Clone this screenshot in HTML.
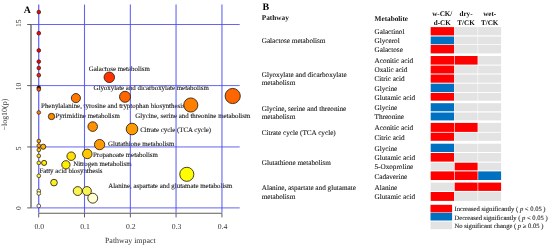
<!DOCTYPE html>
<html><head><meta charset="utf-8"><title>Pathway analysis</title>
<style>html,body{margin:0;padding:0;background:#fff;}body{width:550px;height:247px;position:relative;overflow:hidden;}</style>
</head><body>
<svg width="550" height="247" viewBox="0 0 550 247" text-rendering="geometricPrecision" style="position:absolute;left:0;top:0">
<g font-family="'Liberation Serif','Times New Roman',serif" font-size="6.9" fill="#222" stroke="#222" stroke-width="0.12">
<text x="88.8" y="70.6">Galactose metabolism</text>
<text x="93.5" y="90.4">Glyoxylate and dicarboxylate metabolism</text>
<text x="41.1" y="107.8">Phenylalanine, tyrosine and tryptophan biosynthesis</text>
<text x="55.3" y="118.2">Pyrimidine metabolism</text>
<text x="135.3" y="118.3">Glycine, serine and threonine metabolism</text>
<text x="140.2" y="131.5">Citrate cycle (TCA cycle)</text>
<text x="108.0" y="146.0">Glutathione metabolism</text>
<text x="93.0" y="157.3">Propanoate metabolism</text>
<text x="73.2" y="166.3">Nitrogen metabolism</text>
<text x="39.4" y="172.8">Fatty acid biosynthesis</text>
<text x="108.2" y="188.3">Alanine, aspartate and glutamate metabolism</text>
</g>
<g stroke="#4a4af2" stroke-opacity="0.85" stroke-width="1" fill="none">
<line x1="38.7" y1="4.5" x2="38.7" y2="212.8" stroke-width="1.25"/>
<line x1="84.5" y1="4.5" x2="84.5" y2="212.8" stroke-width="1.1"/>
<line x1="130.35" y1="4.5" x2="130.35" y2="212.8" stroke-width="1.1"/>
<line x1="176.05" y1="4.5" x2="176.05" y2="212.8" stroke-width="1.1"/>
<line x1="221.95" y1="4.5" x2="221.95" y2="212.8" stroke-width="1.1"/>
<line x1="31" y1="207.9" x2="239.7" y2="207.9" stroke-width="1.0"/>
<line x1="31" y1="146.95" x2="239.7" y2="146.95" stroke-width="1.0"/>
<line x1="31" y1="85.6" x2="239.7" y2="85.6" stroke-width="1.0"/>
<line x1="31" y1="24.5" x2="239.7" y2="24.5" stroke-width="1.0"/>
</g>
<g stroke="#5c5c5c" stroke-width="1" fill="none">
<line x1="31.0" y1="24.5" x2="31.0" y2="207.86" stroke-width="1.3"/>
<line x1="27.2" y1="207.9" x2="31.0" y2="207.9"/>
<line x1="27.2" y1="146.95" x2="31.0" y2="146.95"/>
<line x1="27.2" y1="85.6" x2="31.0" y2="85.6"/>
<line x1="27.2" y1="24.5" x2="31.0" y2="24.5"/>
<line x1="38.6" y1="213.2" x2="221.95" y2="213.2" stroke-width="1.15"/>
<line x1="38.7" y1="213.3" x2="38.7" y2="217.4"/>
<line x1="84.5" y1="213.3" x2="84.5" y2="217.4"/>
<line x1="130.35" y1="213.3" x2="130.35" y2="217.4"/>
<line x1="176.05" y1="213.3" x2="176.05" y2="217.4"/>
<line x1="221.95" y1="213.3" x2="221.95" y2="217.4"/>
</g>
<g stroke="#2a1e14" stroke-width="0.85">
<circle cx="38.8" cy="12.05" r="1.85" fill="#ff0000" stroke-width="0.7"/>
<circle cx="38.8" cy="33.2" r="1.85" fill="#ff0000" stroke-width="0.7"/>
<circle cx="38.8" cy="50.4" r="1.85" fill="#f80000" stroke-width="0.7"/>
<circle cx="38.8" cy="61.6" r="1.85" fill="#f80000" stroke-width="0.7"/>
<circle cx="38.8" cy="68.0" r="1.85" fill="#f80800" stroke-width="0.7"/>
<circle cx="38.8" cy="75.2" r="1.85" fill="#ff1a00" stroke-width="0.7"/>
<circle cx="38.8" cy="87.7" r="1.85" fill="#300000" stroke-width="0.7"/>
<circle cx="38.8" cy="89.4" r="1.85" fill="#ff5a00" stroke-width="0.7"/>
<circle cx="38.8" cy="112.5" r="1.85" fill="#ff8000" stroke-width="0.7"/>
<circle cx="38.8" cy="141.0" r="1.85" fill="#ffa500" stroke-width="0.7"/>
<circle cx="38.8" cy="145.7" r="1.85" fill="#ffb000" stroke-width="0.7"/>
<circle cx="38.8" cy="149.9" r="1.85" fill="#ffcc00" stroke-width="0.7"/>
<circle cx="38.8" cy="155.9" r="1.85" fill="#ffe000" stroke-width="0.7"/>
<circle cx="38.8" cy="162.9" r="1.85" fill="#ffee00" stroke-width="0.7"/>
<circle cx="38.8" cy="175.8" r="1.85" fill="#ffff20" stroke-width="0.7"/>
<circle cx="38.8" cy="190.9" r="1.85" fill="#ffffa0" stroke-width="0.7"/>
<circle cx="38.8" cy="193.5" r="1.85" fill="#ffffa0" stroke-width="0.7"/>
<circle cx="38.8" cy="205.9" r="1.85" fill="#ffffff" stroke-width="0.7"/>
<circle cx="43.2" cy="146.7" r="2.55" fill="#ffb400"/>
<circle cx="44.1" cy="162.9" r="2.55" fill="#ffee00"/>
<circle cx="51.5" cy="116.5" r="3.15" fill="#ff8c00"/>
<circle cx="54.0" cy="182.6" r="3.35" fill="#f8f020"/>
<circle cx="65.9" cy="164.8" r="4.15" fill="#ffee00"/>
<circle cx="71.2" cy="156.2" r="4.25" fill="#ffe000"/>
<circle cx="75.9" cy="98.1" r="4.55" fill="#ff7800"/>
<circle cx="77.7" cy="191.05" r="4.45" fill="#f8f450"/>
<circle cx="86.9" cy="191.0" r="4.45" fill="#f8f450"/>
<circle cx="87.3" cy="153.9" r="4.75" fill="#ffc800"/>
<circle cx="92.7" cy="126.6" r="4.80" fill="#ff9000"/>
<circle cx="92.75" cy="198.2" r="4.95" fill="#ffffd0"/>
<circle cx="99.6" cy="144.6" r="5.15" fill="#ff9a00"/>
<circle cx="109.3" cy="77.3" r="5.25" fill="#ff3300"/>
<circle cx="125.0" cy="96.8" r="5.50" fill="#ff6600"/>
<circle cx="132.0" cy="129.0" r="5.80" fill="#ff9900"/>
<circle cx="186.8" cy="174.3" r="7.05" fill="#ffff00"/>
<circle cx="190.8" cy="105.0" r="7.05" fill="#ff8000"/>
<circle cx="232.7" cy="96.0" r="7.60" fill="#ff6600"/>
</g>
<g font-family="'Liberation Serif','Times New Roman',serif" font-size="7.7" fill="#333" text-anchor="middle">
<text x="39.2" y="229.3">0.0</text>
<text x="85.0" y="229.3">0.1</text>
<text x="130.85" y="229.3">0.2</text>
<text x="176.55" y="229.3">0.3</text>
<text x="222.45" y="229.3">0.4</text>
<text transform="translate(21.2 208.2) rotate(-90)">0</text>
<text transform="translate(21.2 148.4) rotate(-90)">5</text>
<text transform="translate(21.2 86.4) rotate(-90)">10</text>
<text transform="translate(21.2 23.2) rotate(-90)">15</text>
</g>
<text x="130.3" y="243" font-family="'Liberation Serif','Times New Roman',serif" font-size="7.9" fill="#333" text-anchor="middle">Pathway impact</text>
<text transform="translate(6.7 114.6) rotate(-90)" font-family="'Liberation Serif','Times New Roman',serif" font-size="7.95" fill="#333" text-anchor="middle">−log10(p)</text>
<text x="23.8" y="12.7" font-family="'Liberation Serif','Times New Roman',serif" font-size="9.8" font-weight="bold" fill="#000">A</text>
<text x="262.6" y="9.7" font-family="'Liberation Serif','Times New Roman',serif" font-size="10" font-weight="bold" fill="#000">B</text>
<g font-family="'Liberation Serif','Times New Roman',serif" font-size="7.25" font-weight="bold" fill="#111">
<text x="261.8" y="20.1">Pathway</text>
<text x="374.6" y="20.5">Metabolite</text>
</g>
<g font-family="'Liberation Serif','Times New Roman',serif" font-size="7.1" font-weight="bold" fill="#111" text-anchor="middle">
<text x="442.2" y="16.1">w-CK/</text><text x="442.2" y="24.6">d-CK</text>
<text x="466.0" y="16.1">dry-</text><text x="466.0" y="24.6">T/CK</text>
<text x="489.7" y="16.1">wet-</text><text x="489.7" y="24.6">T/CK</text>
</g>
<rect x="430.7" y="27.1" width="23.4" height="8.3" fill="#ff0000"/>
<rect x="454.7" y="27.1" width="22.9" height="8.3" fill="#e3e3e3"/>
<rect x="478.2" y="27.1" width="22.9" height="8.3" fill="#e3e3e3"/>
<rect x="430.7" y="36.5" width="23.4" height="7.8" fill="#0070c0"/>
<rect x="454.7" y="36.5" width="22.9" height="7.8" fill="#e3e3e3"/>
<rect x="478.2" y="36.5" width="22.9" height="7.8" fill="#e3e3e3"/>
<rect x="430.7" y="45.0" width="23.4" height="8.4" fill="#ff0000"/>
<rect x="454.7" y="45.0" width="22.9" height="8.4" fill="#e3e3e3"/>
<rect x="478.2" y="45.0" width="22.9" height="8.4" fill="#e3e3e3"/>
<rect x="430.7" y="56.0" width="23.4" height="8.6" fill="#ff0000"/>
<rect x="454.7" y="56.0" width="22.9" height="8.6" fill="#ff0000"/>
<rect x="478.2" y="56.0" width="22.9" height="8.6" fill="#e3e3e3"/>
<rect x="430.7" y="65.6" width="23.4" height="7.9" fill="#ff0000"/>
<rect x="454.7" y="65.6" width="22.9" height="7.9" fill="#e3e3e3"/>
<rect x="478.2" y="65.6" width="22.9" height="7.9" fill="#e3e3e3"/>
<rect x="430.7" y="74.5" width="23.4" height="8.2" fill="#ff0000"/>
<rect x="454.7" y="74.5" width="22.9" height="8.2" fill="#e3e3e3"/>
<rect x="478.2" y="74.5" width="22.9" height="8.2" fill="#e3e3e3"/>
<rect x="430.7" y="83.7" width="23.4" height="8.3" fill="#0070c0"/>
<rect x="454.7" y="83.7" width="22.9" height="8.3" fill="#e3e3e3"/>
<rect x="478.2" y="83.7" width="22.9" height="8.3" fill="#e3e3e3"/>
<rect x="430.7" y="92.9" width="23.4" height="7.8" fill="#ff0000"/>
<rect x="454.7" y="92.9" width="22.9" height="7.8" fill="#e3e3e3"/>
<rect x="478.2" y="92.9" width="22.9" height="7.8" fill="#e3e3e3"/>
<rect x="430.7" y="103.2" width="23.4" height="8.1" fill="#0070c0"/>
<rect x="454.7" y="103.2" width="22.9" height="8.1" fill="#e3e3e3"/>
<rect x="478.2" y="103.2" width="22.9" height="8.1" fill="#e3e3e3"/>
<rect x="430.7" y="112.5" width="23.4" height="7.9" fill="#0070c0"/>
<rect x="454.7" y="112.5" width="22.9" height="7.9" fill="#e3e3e3"/>
<rect x="478.2" y="112.5" width="22.9" height="7.9" fill="#e3e3e3"/>
<rect x="430.7" y="122.9" width="23.4" height="9.0" fill="#ff0000"/>
<rect x="454.7" y="122.9" width="22.9" height="9.0" fill="#ff0000"/>
<rect x="478.2" y="122.9" width="22.9" height="9.0" fill="#e3e3e3"/>
<rect x="430.7" y="132.7" width="23.4" height="8.1" fill="#ff0000"/>
<rect x="454.7" y="132.7" width="22.9" height="8.1" fill="#e3e3e3"/>
<rect x="478.2" y="132.7" width="22.9" height="8.1" fill="#e3e3e3"/>
<rect x="430.7" y="143.7" width="23.4" height="8.3" fill="#0070c0"/>
<rect x="454.7" y="143.7" width="22.9" height="8.3" fill="#e3e3e3"/>
<rect x="478.2" y="143.7" width="22.9" height="8.3" fill="#e3e3e3"/>
<rect x="430.7" y="153.0" width="23.4" height="8.6" fill="#ff0000"/>
<rect x="454.7" y="153.0" width="22.9" height="8.6" fill="#e3e3e3"/>
<rect x="478.2" y="153.0" width="22.9" height="8.6" fill="#e3e3e3"/>
<rect x="430.7" y="162.7" width="23.4" height="7.6" fill="#e3e3e3"/>
<rect x="454.7" y="162.7" width="22.9" height="7.6" fill="#ff0000"/>
<rect x="478.2" y="162.7" width="22.9" height="7.6" fill="#e3e3e3"/>
<rect x="430.7" y="171.4" width="23.4" height="8.6" fill="#ff0000"/>
<rect x="454.7" y="171.4" width="22.9" height="8.6" fill="#ff0000"/>
<rect x="478.2" y="171.4" width="22.9" height="8.6" fill="#0070c0"/>
<rect x="430.7" y="182.6" width="23.4" height="8.3" fill="#e3e3e3"/>
<rect x="454.7" y="182.6" width="22.9" height="8.3" fill="#ff0000"/>
<rect x="478.2" y="182.6" width="22.9" height="8.3" fill="#ff0000"/>
<rect x="430.7" y="192.0" width="23.4" height="8.9" fill="#ff0000"/>
<rect x="454.7" y="192.0" width="22.9" height="8.9" fill="#e3e3e3"/>
<rect x="478.2" y="192.0" width="22.9" height="8.9" fill="#e3e3e3"/>
<g font-family="'Liberation Serif','Times New Roman',serif" font-size="7.2" fill="#222" stroke="#222" stroke-width="0.12">
<text x="374.5" y="34.0">Galactinol</text>
<text x="374.5" y="43.2">Glycerol</text>
<text x="374.5" y="52.0">Galactose</text>
<text x="374.5" y="63.1">Aconitic acid</text>
<text x="374.5" y="72.3">Oxalic acid</text>
<text x="374.5" y="81.4">Citric acid</text>
<text x="374.5" y="90.6">Glycine</text>
<text x="374.5" y="99.6">Glutamic acid</text>
<text x="374.5" y="110.0">Glycine</text>
<text x="374.5" y="119.2">Threonine</text>
<text x="374.5" y="130.2">Aconitic acid</text>
<text x="374.5" y="139.6">Citric acid</text>
<text x="374.5" y="150.7">Glycine</text>
<text x="374.5" y="160.1">Glutamic acid</text>
<text x="374.5" y="169.3">5-Oxoproline</text>
<text x="374.5" y="178.5">Cadaverine</text>
<text x="374.5" y="189.6">Alanine</text>
<text x="374.5" y="199.2">Glutamic acid</text>
<text x="261.7" y="42.9">Galactose metabolism</text>
<text x="261.7" y="76.9">Glyoxylate and dicarboxylate</text>
<text x="261.7" y="85.4">metabolism</text>
<text x="261.7" y="111.0">Glycine, serine and threonine</text>
<text x="261.7" y="119.2">metabolism</text>
<text x="261.7" y="135.1">Citrate cycle (TCA cycle)</text>
<text x="261.7" y="164.6">Glutathione metabolism</text>
<text x="261.7" y="190.3">Alanine, aspartate and glutamate</text>
<text x="261.7" y="198.7">metabolism</text>
</g>
<g font-family="'Liberation Serif','Times New Roman',serif" font-size="6.6" fill="#222" stroke="#222" stroke-width="0.1">
<rect x="430.5" y="204.8" width="21.6" height="7.6" fill="#ff0000" stroke="none"/>
<text x="454.5" y="211.4">Increased significantly ( <tspan font-style="italic">p</tspan> &lt; 0.05 )</text>
<rect x="430.5" y="212.9" width="21.6" height="7.6" fill="#0070c0" stroke="none"/>
<text x="454.5" y="219.5">Decreased significantly ( <tspan font-style="italic">p</tspan> &lt; 0.05 )</text>
<rect x="430.5" y="221.6" width="21.6" height="7.6" fill="#e3e3e3" stroke="none"/>
<text x="454.5" y="228.2">No significant change ( <tspan font-style="italic">p</tspan> ≥ 0.05 )</text>
</g>
</svg>
</body></html>
